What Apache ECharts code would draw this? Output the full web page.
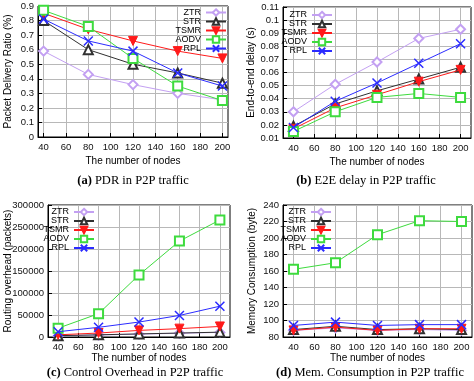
<!DOCTYPE html>
<html><head><meta charset="utf-8">
<script src="https://cdn.jsdelivr.net/npm/echarts@6/dist/echarts.min.js"></script>
<style>html,body{margin:0;padding:0;background:#fff}#c{width:474px;height:381px}</style>
</head><body><div id="c"></div>
<script>
// ---- data ----
const nodes = [40, 80, 120, 160, 200];
const xTickLabels = [40, 60, 80, 100, 120, 140, 160, 180, 200];
const protocols = ['ZTR', 'STR', 'TSMR', 'AODV', 'RPL'];

const pdrZTR  = [0.59, 0.43, 0.36, 0.30, 0.255];
const pdrSTR  = [0.80, 0.60, 0.50, 0.44, 0.37];
const pdrTSMR = [0.85, 0.74, 0.66, 0.59, 0.54];
const pdrAODV = [0.87, 0.76, 0.54, 0.35, 0.25];
const pdrRPL  = [0.81, 0.66, 0.59, 0.44, 0.35];

const e2eZTR  = [0.030, 0.051, 0.068, 0.086, 0.093];
const e2eSTR  = [0.019, 0.036, 0.046, 0.055, 0.064];
const e2eTSMR = [0.017, 0.033, 0.043, 0.053, 0.062];
const e2eAODV = [0.015, 0.030, 0.041, 0.044, 0.041];
const e2eRPL  = [0.018, 0.038, 0.052, 0.067, 0.082];

const ovhZTR  = [2500, 4500, 6500, 8500, 10500];
const ovhSTR  = [3000, 5000, 7000, 9000, 11000];
const ovhTSMR = [5000, 9000, 15000, 19000, 24000];
const ovhAODV = [20000, 53000, 141000, 218000, 266000];
const ovhRPL  = [12000, 22000, 34000, 49000, 70000];

const memZTR  = [88, 91, 88, 89, 88];
const memSTR  = [89, 93, 89, 90, 89];
const memTSMR = [88, 92, 88, 90, 90];
const memAODV = [162, 170, 204, 221, 220];
const memRPL  = [94, 98, 94, 95, 95];

const yTicksPDR = {min: 0, max: 0.9, interval: 0.1};
const yTicksE2E = {min: 0.01, max: 0.11, interval: 0.01};
const yTicksOVH = {min: 0, max: 300000, interval: 50000};
const yTicksMEM = {min: 80, max: 240, interval: 20};

const panelSeries = [
  [pdrZTR, pdrSTR, pdrTSMR, pdrAODV, pdrRPL],
  [e2eZTR, e2eSTR, e2eTSMR, e2eAODV, e2eRPL],
  [ovhZTR, ovhSTR, ovhTSMR, ovhAODV, ovhRPL],
  [memZTR, memSTR, memTSMR, memAODV, memRPL]
];
const yTitles = ['Packet Delivery Ratio (%)', 'End-to-end delay (s)', 'Routing overhead (packets)', 'Memory Consumption (byte)'];
const captionTags = ['(a)', '(b)', '(c)', '(d)'];
const captionTexts = ['PDR in P2P traffic', 'E2E delay in P2P traffic', 'Control Overhead in P2P traffic', 'Mem. Consumption in P2P traffic'];
const yScales = [yTicksPDR, yTicksE2E, yTicksOVH, yTicksMEM];

// ---- layout / style ----
const FONT = 'Liberation Sans, Arial, sans-serif';
const layout = [
  {grid: {left: 38, top: 6, width: 190, height: 131}, xr: [35, 205], nameGapY: 25, leg: {right: 247, top: 8}, cap: [133, 181]},
  {grid: {left: 283, top: 7, width: 188, height: 131}, xr: [30, 210], nameGapY: 27, leg: {right: 141, top: 10.5}, cap: [366, 181]},
  {grid: {left: 48, top: 205, width: 182, height: 132}, xr: [30, 210], nameGapY: 35, leg: {right: 379, top: 207.5}, cap: [135, 373]},
  {grid: {left: 283, top: 205, width: 189, height: 132}, xr: [30, 210], nameGapY: 26, leg: {right: 142, top: 207.5}, cap: [370, 373]}
];
const styles = {
  ZTR:  {color: '#c3a0f2', symbol: 'emptyDiamond', size: 9, rotate: 0},
  STR:  {color: '#303030', symbol: 'emptyTriangle', size: 9, rotate: 0},
  TSMR: {color: '#ff1a1a', symbol: 'triangle', size: 9, rotate: 180},
  AODV: {color: '#3edb3e', symbol: 'emptyRect', size: 9, rotate: 0},
  RPL:  {color: '#2b2bff', symbol: 'path://M0,0L10,10M10,0L0,10', size: 9, rotate: 0}
};
const gridLine = {show: true, lineStyle: {color: '#b8b8b8', width: 1}};

const option = {
  animation: false,
  backgroundColor: '#fff',
  grid: layout.map(l => Object.assign({show: true, borderColor: '#000', borderWidth: 1, outerBoundsMode: 'none', containLabel: false}, l.grid)),
  xAxis: layout.map((l, i) => ({
    type: 'value', gridIndex: i, min: l.xr[0], max: l.xr[1],
    name: 'The number of nodes', nameLocation: 'middle', nameGap: i < 2 ? 19 : 16, nameMoveOverlap: false,
    nameTextStyle: {fontFamily: FONT, fontSize: 10, color: '#000'},
    axisLine: {show: true, lineStyle: {color: '#000', width: 1}},
    axisTick: {show: true, inside: true, length: 4, lineStyle: {color: '#000'}, customValues: xTickLabels},
    axisLabel: {fontFamily: FONT, fontSize: 9.5, color: '#111', margin: 5, customValues: xTickLabels},
    splitLine: gridLine
  })),
  yAxis: layout.map((l, i) => ({
    type: 'value', gridIndex: i, min: yScales[i].min, max: yScales[i].max, interval: yScales[i].interval,
    name: yTitles[i], nameLocation: 'middle', nameGap: l.nameGapY, nameMoveOverlap: false,
    nameTextStyle: {fontFamily: FONT, fontSize: 10, color: '#000'},
    axisLine: {show: true, lineStyle: {color: '#000', width: 1}},
    axisTick: {show: true, inside: true, length: 4, lineStyle: {color: '#000'}},
    axisLabel: {fontFamily: FONT, fontSize: 9.5, color: '#111', margin: 4,
      formatter: v => String(+v.toPrecision(6))},
    splitLine: gridLine
  })),
  legend: layout.map(l => ({
    data: protocols, orient: 'vertical', align: 'right', right: l.leg.right, top: l.leg.top,
    itemWidth: 20, itemHeight: 8, itemGap: 0, padding: 0, selectedMode: false,
    textStyle: {fontFamily: FONT, fontSize: 9, color: '#000', lineHeight: 8.5}
  })),
  series: [],
  graphic: layout.map((l, i) => ({
    type: 'text', x: l.cap[0], y: l.cap[1],
    style: {
      text: '{b|' + captionTags[i] + '} ' + captionTexts[i],
      textAlign: 'center', textVerticalAlign: 'middle',
      fontFamily: 'Liberation Serif, serif', fontSize: 12.5, fill: '#000',
      rich: {b: {fontFamily: 'Liberation Serif, serif', fontSize: 12.5, fontWeight: 'bold', fill: '#000'}}
    }
  }))
};

panelSeries.forEach((vals, i) => {
  protocols.forEach((p, k) => {
    const s = styles[p];
    option.series.push({
      type: 'line', name: p, xAxisIndex: i, yAxisIndex: i,
      data: nodes.map((x, j) => [x, vals[k][j]]),
      symbol: s.symbol, symbolSize: s.size, symbolRotate: s.rotate,
      showAllSymbol: true,
      lineStyle: {color: s.color, width: 1},
      itemStyle: {color: s.color, borderColor: s.color, borderWidth: p === 'RPL' ? 1.5 : 1},
      z: 2 + k
    });
  });
});

const chart = echarts.init(document.getElementById('c'), null, {renderer: 'canvas'});
chart.setOption(option);
</script>
</body></html>
